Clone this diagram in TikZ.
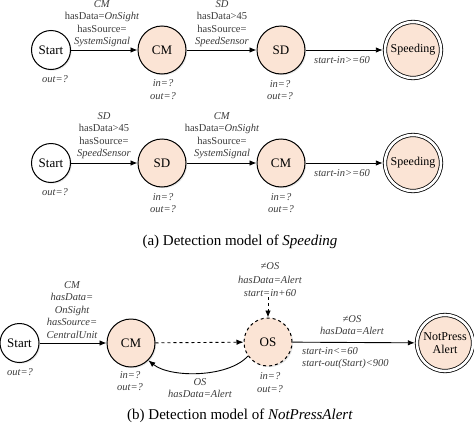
\documentclass[tikz,border=0pt]{standalone}
\usepackage{fontspec}
\setmainfont{Liberation Serif}
\usetikzlibrary{arrows.meta,shadows}

\definecolor{peach}{HTML}{FBE4D5}
\definecolor{labgray}{HTML}{3A3A3A}

\begin{document}
\begin{tikzpicture}[x=1pt,y=-1pt,>={Latex[length=7pt,width=5.5pt]},
    st/.style={circle,draw,line width=1pt,minimum size=48pt,inner sep=0pt,fill=peach,
      font=\fontsize{13}{14}\selectfont,
      drop shadow={shadow xshift=1.2pt,shadow yshift=-1.2pt,opacity=.2}},
    startst/.style={st,fill=white,minimum size=39pt},
    finst/.style={st,double,double distance=2.6pt,line width=.8pt,minimum size=56pt,
      outer sep=2.2pt,align=center,font=\fontsize{12}{13}\selectfont},
    lab/.style={font=\fontsize{10.5}{12.5}\selectfont,text=labgray,align=center,inner sep=0pt},
    ilab/.style={lab,font=\fontsize{10.5}{12.5}\selectfont\itshape},
    edge/.style={->,line width=.9pt},
    captxt/.style={font=\fontsize{15}{17}\selectfont}]

  \useasboundingbox (0,0) rectangle (474,434);

  % (a) primera fila
  \node[startst] (s1) at (51,50) {Start};
  \node[st] (cm1) at (162,50) {CM};
  \node[st] (sd1) at (281,50) {SD};
  \node[finst] (sp1) at (413,50) {Speeding};

  \draw[edge] (s1) -- (cm1);
  \draw[edge] (cm1) -- (sd1);
  \draw[edge] (sd1) -- (sp1);

  \node[lab] (l1a) at (102,23.5) {\textit{CM}\\hasData=\textit{OnSight}\\hasSource=\\\textit{SystemSignal}};
  \node[lab] (l1b) at (222,23.5) {\textit{SD}\\hasData>45\\hasSource=\\\textit{SpeedSensor}};
  \node[ilab] (l1c) at (342,60) {start-in>=60};

  \node[ilab] (io1s) at (55,79) {out=?};
  \node[ilab] (io1c) at (163,89.5) {in=?\\out=?};
  \node[ilab] (io1d) at (280,90) {in=?\\out=?};

  % (a) segunda fila
  \node[startst] (s2) at (51,163) {Start};
  \node[st] (sd2) at (162,163) {SD};
  \node[st] (cm2) at (281,163) {CM};
  \node[finst] (sp2) at (413,163) {Speeding};

  \draw[edge] (s2) -- (sd2);
  \draw[edge] (sd2) -- (cm2);
  \draw[edge] (cm2) -- (sp2);

  \node[lab] (l2a) at (104,135.5) {\textit{SD}\\hasData>45\\hasSource=\\\textit{SpeedSensor}};
  \node[lab] (l2b) at (222,135.5) {\textit{CM}\\hasData=\textit{OnSight}\\hasSource=\\\textit{SystemSignal}};
  \node[ilab] (l2c) at (342,173) {start-in>=60};

  \node[ilab] (io2s) at (55,192) {out=?};
  \node[ilab] (io2d) at (163,203) {in=?\\out=?};
  \node[ilab] (io2c) at (281,203) {in=?\\out=?};

  \node[captxt] (capa) at (240,242) {(a) Detection model of \textit{Speeding}};

  % (b) NotPressAlert
  \node[startst] (s3) at (19.5,343) {Start};
  \node[st] (cm3) at (131,343) {CM};
  \node[st,dashed] (os3) at (268,342) {OS};
  \node[finst] (np3) at (445,343) {NotPress\\Alert};

  \draw[edge] (s3) -- (cm3);
  \draw[edge,dashed] (cm3) -- (os3);
  \draw[edge] (os3) -- (np3);
  \draw[edge] (os3.215) .. controls (228,378) and (170,378) .. (cm3.-45);

  \node[ilab] (l3a) at (72,310) {CM\\hasData=\\OnSight\\hasSource=\\CentralUnit};
  \node[ilab] (l3b) at (200,388) {OS\\hasData=Alert};
  \node[ilab,font=\fontsize{10.5}{13.5}\selectfont\itshape] (l3c) at (270,280) {≠OS\\hasData=Alert\\start=in+60};
  \node[ilab] (l3d) at (352,325) {≠OS\\hasData=Alert};
  \node[ilab,align=left,anchor=west] (l3e) at (302,358) {start-in<=60\\start-out(Start)<900};

  \draw[edge,dashed] (l3c.south -| os3) -- (os3);

  \node[ilab] (io3s) at (20,372) {out=?};
  \node[ilab] (io3c) at (130,381) {in=?\\out=?};
  \node[ilab] (io3o) at (270,382.5) {in=?\\out=?};

  \node[captxt] (capb) at (240,416) {(b) Detection model of \textit{NotPressAlert}};
\end{tikzpicture}
\end{document}
